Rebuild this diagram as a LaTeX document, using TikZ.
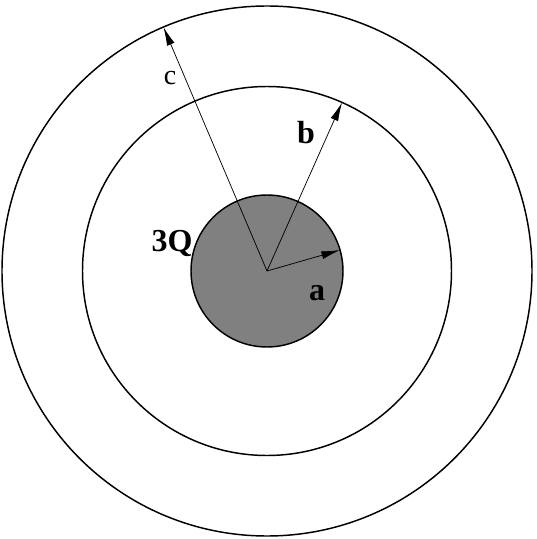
\documentclass[tikz,border=0pt]{standalone}
\usepackage{fontspec}
\setmainfont{Liberation Serif}
\usetikzlibrary{positioning,arrows.meta}
\definecolor{coregray}{RGB}{128,128,128}

\begin{document}
\begin{tikzpicture}[x=0.75pt, y=0.75pt,
        ring/.style={draw, circle, line width=1.1pt, inner sep=0pt, outer sep=0pt},
        radius/.style={-{Latex[length=14pt, width=6pt]}, line width=0.55pt},
        boldlabel/.style={font=\fontsize{24}{26}\selectfont\bfseries, inner sep=0pt}]
    \useasboundingbox (-267,-268) rectangle (269,271);
    \coordinate (o) at (0,0);
    \node[ring, minimum size=397.5pt] (outer) at (o) {};
    \node[ring, minimum size=276.75pt] (shell) at (o) {};
    \node[ring, fill=coregray, minimum size=114pt] (core) at (o) {};
    \draw[radius] (o) -- (core.16);
    \draw[radius] (o) -- (shell.66);
    \draw[radius] (o) -- (outer.113);
    \node[boldlabel] (charge) at (-95,28) {3Q};
    \node[boldlabel] (la) at (50,-22) {a};
    \node[boldlabel] (lb) at (39,138) {b};
    \node[font=\fontsize{21}{23}\selectfont, inner sep=0pt] (lc) at (-97,193) {c};
\end{tikzpicture}
\end{document}
